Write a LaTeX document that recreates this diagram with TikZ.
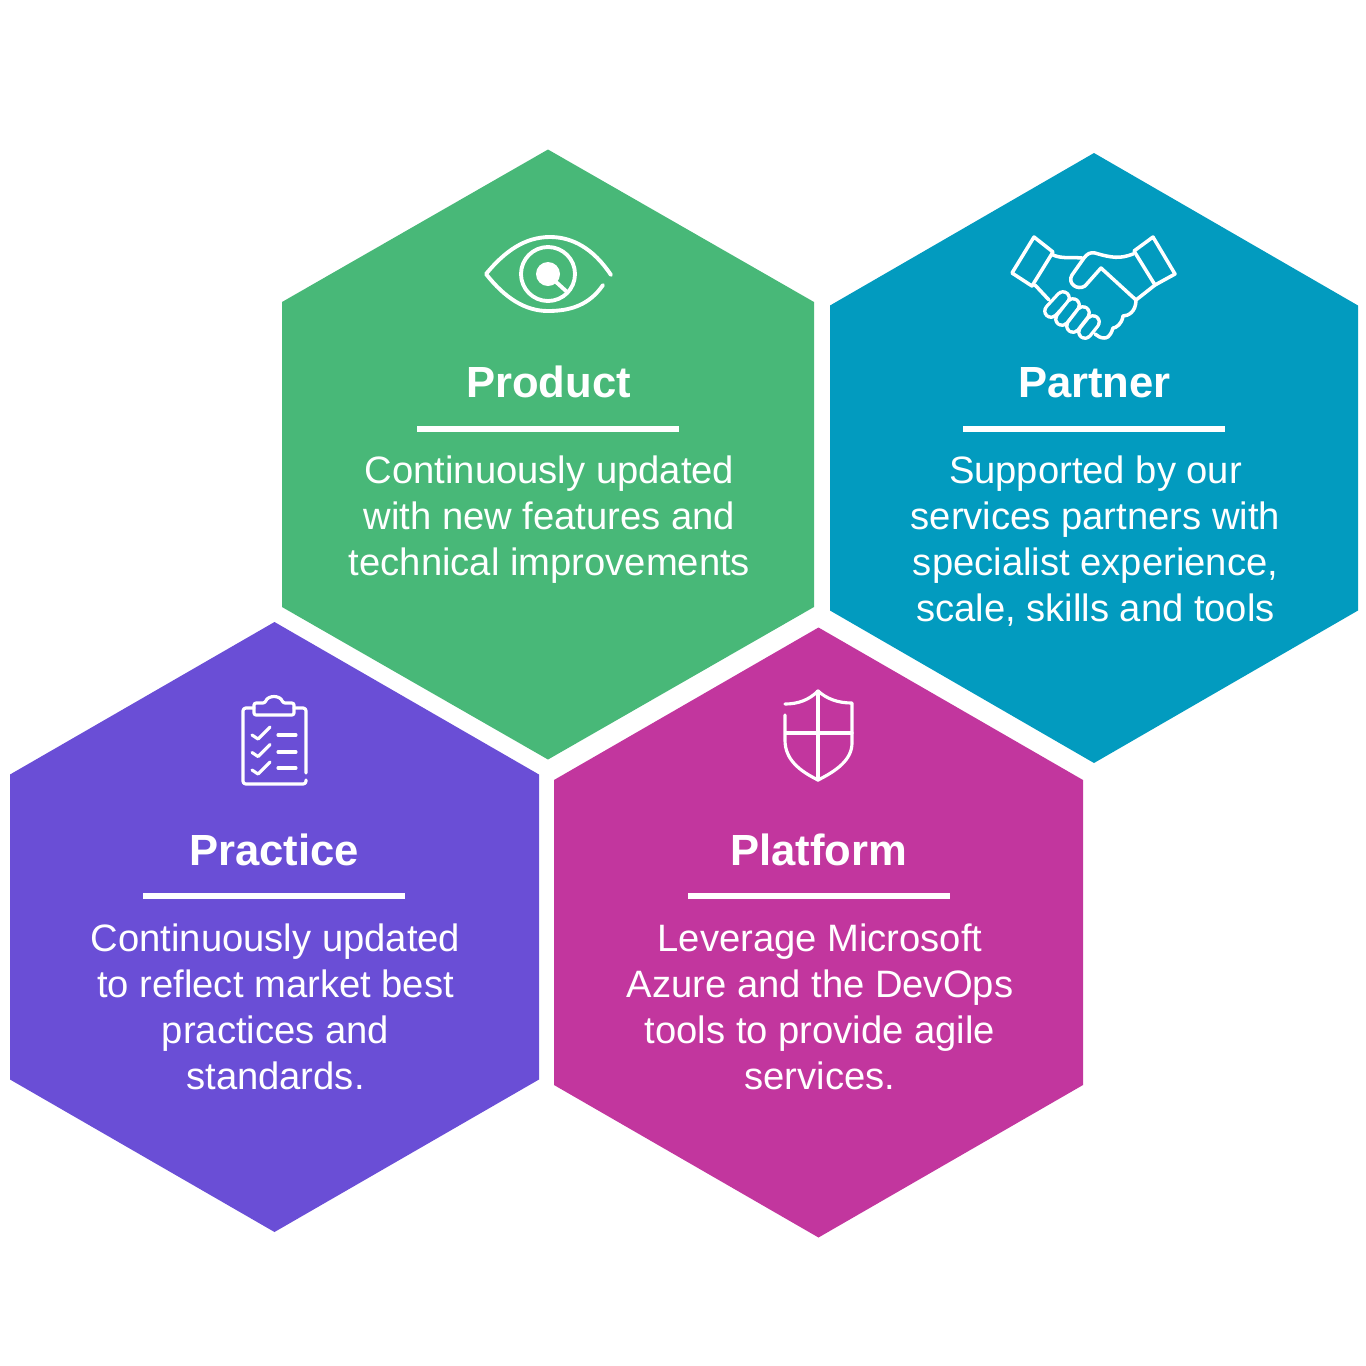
\documentclass[tikz,border=0pt]{standalone}
\usepackage{fontspec}
\setmainfont{Liberation Sans}
\definecolor{productgreen}{RGB}{72,184,120}
\definecolor{partnerteal}{RGB}{2,155,191}
\definecolor{practiceviolet}{RGB}{106,78,214}
\definecolor{platformpink}{RGB}{194,54,158}
\tikzset{
	title/.style={text=white, font=\fontsize{12.4}{14}\selectfont\bfseries, anchor=base},
	body/.style={text=white, font=\fontsize{10.86}{13.09}\selectfont, align=center, anchor=north, inner sep=0pt},
	icon/.style={draw=white, line width=0.9pt, line cap=round, line join=round},
}
\newcommand\hexcell[4][]{
	\begin{scope}[shift = {(#2,#3)}]
		\fill[#1] (0,-305) -- (#4,-152.5) -- (#4,152.5) -- (0,305) -- (-#4,152.5) -- (-#4,-152.5) -- cycle;
	\end{scope}
	}
\newcommand\headrule[2]{
	\draw[white, line width=1.45pt] (#1-131,#2) -- (#1+131,#2);
	}

\begin{document}
\begin{tikzpicture}[x=0.01cm, y=-0.01cm]

	\useasboundingbox (0,0) rectangle (1366,1366);

	\hexcell[fill=productgreen]{548}{454.5}{266}
	\hexcell[fill=partnerteal]{1094}{458}{264}
	\hexcell[fill=practiceviolet]{274.5}{927}{264.5}
	\hexcell[fill=platformpink]{818.5}{932.5}{264.5}

	\headrule{548}{429}
	\headrule{1094}{429}
	\headrule{274}{896}
	\headrule{819}{896}

	% eye
	\draw[icon, line width=1.1pt] (611,275) .. controls (593,248) and (572,237) .. (550,237) .. controls (525,237) and (505,251) .. (486,274)
		.. controls (505,298) and (525,311) .. (548,311) .. controls (572,311) and (590,304) .. (603,285);
	\draw[icon, line width=1.1pt] (548,274) circle (27);
	\fill[white] (548,274) circle (12);
	\draw[icon, line width=1.1pt] (555,281) -- (566,291);

	% handshake
	\draw[icon, line width=1pt] (1034,237) -- (1053,252) -- (1032,286) -- (1012,273) -- cycle;
	\draw[icon, line width=1pt] (1153,237) -- (1134,251) -- (1155,285) -- (1175,274) -- cycle;
	\draw[icon, line width=1pt] (1053,255) .. controls (1062,259) and (1072,257) .. (1082,258);
	\draw[icon, line width=1pt] (1133,254) .. controls (1120,259) and (1112,258) .. (1095,253) .. controls (1090,252) and (1087,254) .. (1084,258)
		-- (1072,275) .. controls (1067,283) and (1077,291) .. (1085,286) -- (1101,268) -- (1136,300);
	\draw[icon, line width=1pt] (1035,285) -- (1049,300);
	\draw[icon, line width=1pt] (1155,285) -- (1136,300) .. controls (1136,312) and (1128,316) .. (1123,316)
		.. controls (1122,324) and (1116,328) .. (1113,328) .. controls (1110,338) and (1106,338) .. (1104,338) .. controls (1100,338) and (1098,336) .. (1095,334);
	\foreach \fx/\fy/\gx/\gy in {1063/298/1051/311, 1073/305/1062/319, 1083/313/1073/326, 1093/322/1085/332} {
		\draw[white, line width=4.5pt, line cap=round] (\fx,\fy) -- (\gx,\gy);
		\draw[partnerteal, line width=2.6pt, line cap=round] (\fx,\fy) -- (\gx,\gy);
	}

	% clipboard
	\draw[icon, rounded corners=0.8pt] (254,708) -- (243,708) -- (243,784) -- (306,784) -- (306,780);
	\draw[icon, rounded corners=0.8pt] (294,708) -- (306,708) -- (306,773);
	\draw[icon, rounded corners=0.6pt] (254,703) -- (265,703) .. controls (268,695) and (280,695) .. (283,703) -- (294,703) -- (294,715) -- (254,715) -- cycle;
	\foreach \cy/\dy in {735/735, 752.5/752, 770/768} {
		\draw[icon] (252,\cy) -- (258,\cy+4) -- (270,\cy-8);
		\draw[icon] (278,\dy) -- (296,\dy);
	}

	% shield
	\draw[icon] (785,704) .. controls (798,704) and (809,700) .. (818,691) .. controls (827,699) and (838,703) .. (852,703)
		-- (852,743) .. controls (852,760) and (836,771) .. (818,780) .. controls (800,771) and (785,760) .. (785,740) -- (785,715);
	\draw[icon] (818,691) -- (818,780);
	\draw[icon] (786,733) -- (852,733);

	\node[title] (producthead) at (548.5,397.5) {Product};
	\node[title] (partnerhead) at (1094.5,397.5) {Partner};
	\node[title] (practicehead) at (274,865.5) {Practice};
	\node[title] (platformhead) at (818.5,865.5) {Platform};

	\node[body] (producttext) at (549.5,455.5) {Continuously updated\\with new features and\\technical improvements};
	\node[body] (partnertext) at (1095.5,455.5) {Supported by our\\services partners with\\specialist experience,\\scale, skills and tools};
	\node[body] (practicetext) at (275.5,923.5) {Continuously updated\\to reflect market best\\practices and\\standards.};
	\node[body] (platformtext) at (820,923.5) {Leverage Microsoft\\Azure and the DevOps\\tools to provide agile\\services.};

\end{tikzpicture}
\end{document}
